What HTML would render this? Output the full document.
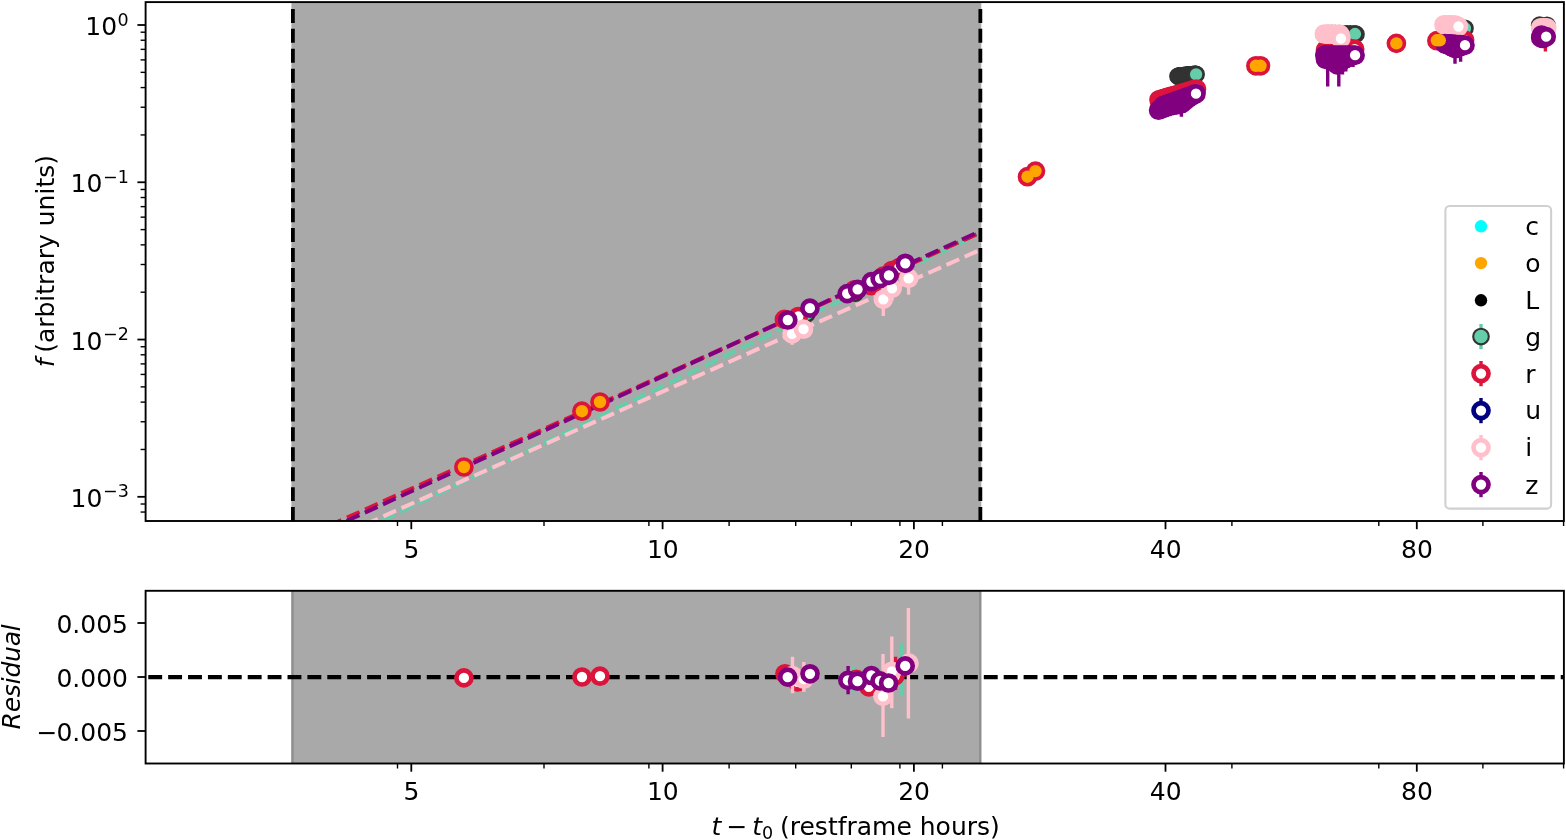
<!DOCTYPE html>
<html lang="en"><head><meta charset="utf-8"><title>Light curve fit</title>
<style>html,body{margin:0;padding:0;background:#fff;}body{width:1566px;height:840px;overflow:hidden;}</style>
</head><body>
<svg width="1566" height="840" viewBox="0 0 1566 840" style="display:block">
<defs>
<clipPath id="c1"><rect x="145.6" y="2.1" width="1418.3" height="518.9"/></clipPath>
<clipPath id="c2"><rect x="145.6" y="590.8" width="1418.3" height="172.7"/></clipPath>
</defs>
<rect width="1566" height="840" fill="#fff"/>
<g clip-path="url(#c1)">
<rect x="291.4" y="0.10000000000000009" width="689.9" height="522.9" fill="#a9a9a9"/>
<line x1="292.5" y1="563.70" x2="977.6" y2="234.85" stroke="#66cdaa" stroke-width="4.0" stroke-dasharray="13.9 5.995"/>
<line x1="292.5" y1="542.16" x2="977.6" y2="233.87" stroke="#dc143c" stroke-width="4.0" stroke-dasharray="13.9 5.995"/>
<line x1="292.5" y1="556.86" x2="977.6" y2="251.00" stroke="#ffc0cb" stroke-width="4.0" stroke-dasharray="13.9 5.995"/>
<line x1="292.5" y1="545.69" x2="977.6" y2="232.33" stroke="#800080" stroke-width="4.0" stroke-dasharray="13.9 5.995"/>
<line x1="292.9" y1="521.0" x2="292.9" y2="-17.9" stroke="#000" stroke-width="3.8" stroke-dasharray="13.95 5.975"/>
<line x1="980.35" y1="521.0" x2="980.35" y2="-17.9" stroke="#000" stroke-width="3.8" stroke-dasharray="13.95 5.975"/>
<circle cx="807.0" cy="313.8" r="7.5" fill="#66cdaa" stroke="#333" stroke-width="2.7"/>
<circle cx="855.2" cy="293.2" r="7.5" fill="#66cdaa" stroke="#333" stroke-width="2.7"/>
<circle cx="1178.0" cy="76.3" r="7.5" fill="#66cdaa" stroke="#333" stroke-width="2.7"/>
<circle cx="1178.5" cy="76.2" r="7.5" fill="#66cdaa" stroke="#333" stroke-width="2.7"/>
<circle cx="1178.9" cy="76.2" r="7.5" fill="#66cdaa" stroke="#333" stroke-width="2.7"/>
<circle cx="1179.4" cy="76.1" r="7.5" fill="#66cdaa" stroke="#333" stroke-width="2.7"/>
<circle cx="1179.9" cy="76.1" r="7.5" fill="#66cdaa" stroke="#333" stroke-width="2.7"/>
<circle cx="1180.3" cy="76.0" r="7.5" fill="#66cdaa" stroke="#333" stroke-width="2.7"/>
<circle cx="1180.8" cy="76.0" r="7.5" fill="#66cdaa" stroke="#333" stroke-width="2.7"/>
<circle cx="1181.2" cy="75.9" r="7.5" fill="#66cdaa" stroke="#333" stroke-width="2.7"/>
<circle cx="1181.7" cy="75.9" r="7.5" fill="#66cdaa" stroke="#333" stroke-width="2.7"/>
<circle cx="1182.2" cy="75.8" r="7.5" fill="#66cdaa" stroke="#333" stroke-width="2.7"/>
<circle cx="1182.6" cy="75.8" r="7.5" fill="#66cdaa" stroke="#333" stroke-width="2.7"/>
<circle cx="1183.1" cy="75.7" r="7.5" fill="#66cdaa" stroke="#333" stroke-width="2.7"/>
<circle cx="1183.6" cy="75.7" r="7.5" fill="#66cdaa" stroke="#333" stroke-width="2.7"/>
<circle cx="1184.0" cy="75.6" r="7.5" fill="#66cdaa" stroke="#333" stroke-width="2.7"/>
<circle cx="1184.5" cy="75.6" r="7.5" fill="#66cdaa" stroke="#333" stroke-width="2.7"/>
<circle cx="1185.0" cy="75.5" r="7.5" fill="#66cdaa" stroke="#333" stroke-width="2.7"/>
<circle cx="1185.4" cy="75.5" r="7.5" fill="#66cdaa" stroke="#333" stroke-width="2.7"/>
<circle cx="1185.9" cy="75.4" r="7.5" fill="#66cdaa" stroke="#333" stroke-width="2.7"/>
<circle cx="1186.4" cy="75.4" r="7.5" fill="#66cdaa" stroke="#333" stroke-width="2.7"/>
<circle cx="1186.8" cy="75.3" r="7.5" fill="#66cdaa" stroke="#333" stroke-width="2.7"/>
<circle cx="1187.3" cy="75.3" r="7.5" fill="#66cdaa" stroke="#333" stroke-width="2.7"/>
<circle cx="1187.7" cy="75.2" r="7.5" fill="#66cdaa" stroke="#333" stroke-width="2.7"/>
<circle cx="1188.2" cy="75.2" r="7.5" fill="#66cdaa" stroke="#333" stroke-width="2.7"/>
<circle cx="1188.7" cy="75.1" r="7.5" fill="#66cdaa" stroke="#333" stroke-width="2.7"/>
<circle cx="1189.1" cy="75.1" r="7.5" fill="#66cdaa" stroke="#333" stroke-width="2.7"/>
<circle cx="1189.6" cy="75.0" r="7.5" fill="#66cdaa" stroke="#333" stroke-width="2.7"/>
<circle cx="1190.1" cy="75.0" r="7.5" fill="#66cdaa" stroke="#333" stroke-width="2.7"/>
<circle cx="1190.5" cy="74.9" r="7.5" fill="#66cdaa" stroke="#333" stroke-width="2.7"/>
<circle cx="1191.0" cy="74.9" r="7.5" fill="#66cdaa" stroke="#333" stroke-width="2.7"/>
<circle cx="1191.5" cy="74.8" r="7.5" fill="#66cdaa" stroke="#333" stroke-width="2.7"/>
<circle cx="1191.9" cy="74.8" r="7.5" fill="#66cdaa" stroke="#333" stroke-width="2.7"/>
<circle cx="1192.4" cy="74.7" r="7.5" fill="#66cdaa" stroke="#333" stroke-width="2.7"/>
<circle cx="1192.9" cy="74.7" r="7.5" fill="#66cdaa" stroke="#333" stroke-width="2.7"/>
<circle cx="1193.3" cy="74.6" r="7.5" fill="#66cdaa" stroke="#333" stroke-width="2.7"/>
<circle cx="1193.8" cy="74.6" r="7.5" fill="#66cdaa" stroke="#333" stroke-width="2.7"/>
<circle cx="1194.2" cy="74.5" r="7.5" fill="#66cdaa" stroke="#333" stroke-width="2.7"/>
<circle cx="1194.7" cy="74.5" r="7.5" fill="#66cdaa" stroke="#333" stroke-width="2.7"/>
<circle cx="1195.2" cy="74.4" r="7.5" fill="#66cdaa" stroke="#333" stroke-width="2.7"/>
<circle cx="1195.6" cy="74.4" r="7.5" fill="#66cdaa" stroke="#333" stroke-width="2.7"/>
<circle cx="1196.1" cy="74.3" r="7.5" fill="#66cdaa" stroke="#333" stroke-width="2.7"/>
<circle cx="1328.0" cy="33.5" r="7.5" fill="#66cdaa" stroke="#333" stroke-width="2.7"/>
<circle cx="1331.7" cy="33.6" r="7.5" fill="#66cdaa" stroke="#333" stroke-width="2.7"/>
<circle cx="1335.4" cy="33.6" r="7.5" fill="#66cdaa" stroke="#333" stroke-width="2.7"/>
<circle cx="1339.1" cy="33.7" r="7.5" fill="#66cdaa" stroke="#333" stroke-width="2.7"/>
<circle cx="1342.9" cy="33.8" r="7.5" fill="#66cdaa" stroke="#333" stroke-width="2.7"/>
<circle cx="1346.6" cy="33.9" r="7.5" fill="#66cdaa" stroke="#333" stroke-width="2.7"/>
<circle cx="1350.3" cy="33.9" r="7.5" fill="#66cdaa" stroke="#333" stroke-width="2.7"/>
<circle cx="1354.0" cy="34.0" r="7.5" fill="#66cdaa" stroke="#333" stroke-width="2.7"/>
<circle cx="1356.0" cy="34.2" r="7.5" fill="#66cdaa" stroke="#333" stroke-width="2.7"/>
<circle cx="1355.0" cy="34.0" r="7.5" fill="#66cdaa" stroke="#333" stroke-width="2.7"/>
<circle cx="1448.0" cy="28.0" r="7.5" fill="#66cdaa" stroke="#333" stroke-width="2.7"/>
<circle cx="1452.2" cy="28.1" r="7.5" fill="#66cdaa" stroke="#333" stroke-width="2.7"/>
<circle cx="1456.5" cy="28.1" r="7.5" fill="#66cdaa" stroke="#333" stroke-width="2.7"/>
<circle cx="1460.8" cy="28.2" r="7.5" fill="#66cdaa" stroke="#333" stroke-width="2.7"/>
<circle cx="1465.0" cy="28.3" r="7.5" fill="#66cdaa" stroke="#333" stroke-width="2.7"/>
<circle cx="1539.6" cy="25.2" r="7.5" fill="#66cdaa" stroke="#333" stroke-width="2.7"/>
<circle cx="1547.0" cy="25.3" r="7.5" fill="#66cdaa" stroke="#333" stroke-width="2.7"/>
<line x1="1545.4" y1="37.0" x2="1545.4" y2="51.5" stroke="#dc143c" stroke-width="3.4"/>
<circle cx="463.9" cy="467.0" r="7.5" fill="#fff" stroke="#dc143c" stroke-width="4.7"/>
<circle cx="581.9" cy="411.2" r="7.5" fill="#fff" stroke="#dc143c" stroke-width="4.7"/>
<circle cx="600.0" cy="402.0" r="7.5" fill="#fff" stroke="#dc143c" stroke-width="4.7"/>
<circle cx="784.4" cy="319.4" r="7.5" fill="#fff" stroke="#dc143c" stroke-width="4.7"/>
<circle cx="798.3" cy="316.5" r="7.5" fill="#fff" stroke="#dc143c" stroke-width="4.7"/>
<circle cx="854.5" cy="289.8" r="7.5" fill="#fff" stroke="#dc143c" stroke-width="4.7"/>
<circle cx="871.5" cy="285.7" r="7.5" fill="#fff" stroke="#dc143c" stroke-width="4.7"/>
<circle cx="883.3" cy="276.2" r="7.5" fill="#fff" stroke="#dc143c" stroke-width="4.7"/>
<circle cx="891.9" cy="270.5" r="7.5" fill="#fff" stroke="#dc143c" stroke-width="4.7"/>
<circle cx="899.3" cy="267.5" r="7.5" fill="#fff" stroke="#dc143c" stroke-width="4.7"/>
<circle cx="1027.5" cy="176.7" r="7.5" fill="#fff" stroke="#dc143c" stroke-width="4.7"/>
<circle cx="1035.5" cy="171.1" r="7.5" fill="#fff" stroke="#dc143c" stroke-width="4.7"/>
<circle cx="1159.0" cy="99.8" r="7.5" fill="#fff" stroke="#dc143c" stroke-width="4.7"/>
<circle cx="1161.5" cy="99.1" r="7.5" fill="#fff" stroke="#dc143c" stroke-width="4.7"/>
<circle cx="1164.0" cy="98.4" r="7.5" fill="#fff" stroke="#dc143c" stroke-width="4.7"/>
<circle cx="1166.5" cy="97.6" r="7.5" fill="#fff" stroke="#dc143c" stroke-width="4.7"/>
<circle cx="1169.0" cy="96.9" r="7.5" fill="#fff" stroke="#dc143c" stroke-width="4.7"/>
<circle cx="1171.5" cy="96.2" r="7.5" fill="#fff" stroke="#dc143c" stroke-width="4.7"/>
<circle cx="1174.0" cy="95.5" r="7.5" fill="#fff" stroke="#dc143c" stroke-width="4.7"/>
<circle cx="1176.5" cy="94.8" r="7.5" fill="#fff" stroke="#dc143c" stroke-width="4.7"/>
<circle cx="1179.0" cy="94.0" r="7.5" fill="#fff" stroke="#dc143c" stroke-width="4.7"/>
<circle cx="1181.5" cy="93.3" r="7.5" fill="#fff" stroke="#dc143c" stroke-width="4.7"/>
<circle cx="1184.0" cy="92.6" r="7.5" fill="#fff" stroke="#dc143c" stroke-width="4.7"/>
<circle cx="1186.5" cy="91.9" r="7.5" fill="#fff" stroke="#dc143c" stroke-width="4.7"/>
<circle cx="1189.0" cy="91.2" r="7.5" fill="#fff" stroke="#dc143c" stroke-width="4.7"/>
<circle cx="1191.5" cy="90.4" r="7.5" fill="#fff" stroke="#dc143c" stroke-width="4.7"/>
<circle cx="1194.0" cy="89.7" r="7.5" fill="#fff" stroke="#dc143c" stroke-width="4.7"/>
<circle cx="1196.5" cy="89.0" r="7.5" fill="#fff" stroke="#dc143c" stroke-width="4.7"/>
<circle cx="1255.9" cy="65.8" r="7.5" fill="#fff" stroke="#dc143c" stroke-width="4.7"/>
<circle cx="1260.5" cy="65.8" r="7.5" fill="#fff" stroke="#dc143c" stroke-width="4.7"/>
<circle cx="1325.5" cy="50.0" r="7.5" fill="#fff" stroke="#dc143c" stroke-width="4.7"/>
<circle cx="1328.7" cy="49.9" r="7.5" fill="#fff" stroke="#dc143c" stroke-width="4.7"/>
<circle cx="1332.0" cy="49.8" r="7.5" fill="#fff" stroke="#dc143c" stroke-width="4.7"/>
<circle cx="1335.2" cy="49.7" r="7.5" fill="#fff" stroke="#dc143c" stroke-width="4.7"/>
<circle cx="1338.5" cy="49.6" r="7.5" fill="#fff" stroke="#dc143c" stroke-width="4.7"/>
<circle cx="1341.7" cy="49.5" r="7.5" fill="#fff" stroke="#dc143c" stroke-width="4.7"/>
<circle cx="1345.0" cy="49.4" r="7.5" fill="#fff" stroke="#dc143c" stroke-width="4.7"/>
<circle cx="1348.2" cy="49.3" r="7.5" fill="#fff" stroke="#dc143c" stroke-width="4.7"/>
<circle cx="1351.5" cy="49.2" r="7.5" fill="#fff" stroke="#dc143c" stroke-width="4.7"/>
<circle cx="1354.7" cy="49.1" r="7.5" fill="#fff" stroke="#dc143c" stroke-width="4.7"/>
<circle cx="1396.4" cy="43.4" r="7.5" fill="#fff" stroke="#dc143c" stroke-width="4.7"/>
<circle cx="1436.9" cy="40.7" r="7.5" fill="#fff" stroke="#dc143c" stroke-width="4.7"/>
<circle cx="1439.8" cy="40.4" r="7.5" fill="#fff" stroke="#dc143c" stroke-width="4.7"/>
<circle cx="1445.0" cy="40.5" r="7.5" fill="#fff" stroke="#dc143c" stroke-width="4.7"/>
<circle cx="1448.9" cy="40.4" r="7.5" fill="#fff" stroke="#dc143c" stroke-width="4.7"/>
<circle cx="1452.8" cy="40.3" r="7.5" fill="#fff" stroke="#dc143c" stroke-width="4.7"/>
<circle cx="1456.8" cy="40.2" r="7.5" fill="#fff" stroke="#dc143c" stroke-width="4.7"/>
<circle cx="1460.7" cy="40.1" r="7.5" fill="#fff" stroke="#dc143c" stroke-width="4.7"/>
<circle cx="1464.6" cy="40.0" r="7.5" fill="#fff" stroke="#dc143c" stroke-width="4.7"/>
<circle cx="1541.0" cy="36.5" r="7.5" fill="#fff" stroke="#dc143c" stroke-width="4.7"/>
<circle cx="1545.4" cy="37.0" r="7.5" fill="#fff" stroke="#dc143c" stroke-width="4.7"/>
<line x1="792.1" y1="326.0" x2="792.1" y2="344.8" stroke="#ffc0cb" stroke-width="3.4"/>
<line x1="803.5" y1="322.0" x2="803.5" y2="337.5" stroke="#ffc0cb" stroke-width="3.4"/>
<line x1="883.3" y1="287.0" x2="883.3" y2="316.0" stroke="#ffc0cb" stroke-width="3.4"/>
<line x1="892.1" y1="278.0" x2="892.1" y2="300.5" stroke="#ffc0cb" stroke-width="3.4"/>
<line x1="908.6" y1="266.0" x2="908.6" y2="294.7" stroke="#ffc0cb" stroke-width="3.4"/>
<circle cx="792.1" cy="333.9" r="7.5" fill="#fff" stroke="#ffc0cb" stroke-width="4.7"/>
<circle cx="803.5" cy="329.2" r="7.5" fill="#fff" stroke="#ffc0cb" stroke-width="4.7"/>
<circle cx="883.3" cy="299.3" r="7.5" fill="#fff" stroke="#ffc0cb" stroke-width="4.7"/>
<circle cx="892.1" cy="288.4" r="7.5" fill="#fff" stroke="#ffc0cb" stroke-width="4.7"/>
<circle cx="908.6" cy="278.3" r="7.5" fill="#fff" stroke="#ffc0cb" stroke-width="4.7"/>
<circle cx="1324.3" cy="34.0" r="7.5" fill="#fff" stroke="#ffc0cb" stroke-width="4.7"/>
<circle cx="1326.9" cy="34.1" r="7.5" fill="#fff" stroke="#ffc0cb" stroke-width="4.7"/>
<circle cx="1329.5" cy="34.1" r="7.5" fill="#fff" stroke="#ffc0cb" stroke-width="4.7"/>
<circle cx="1332.2" cy="34.2" r="7.5" fill="#fff" stroke="#ffc0cb" stroke-width="4.7"/>
<circle cx="1334.8" cy="34.3" r="7.5" fill="#fff" stroke="#ffc0cb" stroke-width="4.7"/>
<circle cx="1337.4" cy="34.3" r="7.5" fill="#fff" stroke="#ffc0cb" stroke-width="4.7"/>
<circle cx="1340.0" cy="34.4" r="7.5" fill="#fff" stroke="#ffc0cb" stroke-width="4.7"/>
<circle cx="1338.5" cy="36.5" r="7.5" fill="#fff" stroke="#ffc0cb" stroke-width="4.7"/>
<circle cx="1340.9" cy="38.5" r="7.5" fill="#fff" stroke="#ffc0cb" stroke-width="4.7"/>
<circle cx="1444.0" cy="24.8" r="7.5" fill="#fff" stroke="#ffc0cb" stroke-width="4.7"/>
<circle cx="1446.3" cy="24.8" r="7.5" fill="#fff" stroke="#ffc0cb" stroke-width="4.7"/>
<circle cx="1448.6" cy="24.9" r="7.5" fill="#fff" stroke="#ffc0cb" stroke-width="4.7"/>
<circle cx="1450.9" cy="24.9" r="7.5" fill="#fff" stroke="#ffc0cb" stroke-width="4.7"/>
<circle cx="1453.2" cy="25.0" r="7.5" fill="#fff" stroke="#ffc0cb" stroke-width="4.7"/>
<circle cx="1455.5" cy="25.0" r="7.5" fill="#fff" stroke="#ffc0cb" stroke-width="4.7"/>
<circle cx="1458.5" cy="26.5" r="7.5" fill="#fff" stroke="#ffc0cb" stroke-width="4.7"/>
<circle cx="1540.7" cy="27.8" r="7.5" fill="#fff" stroke="#ffc0cb" stroke-width="4.7"/>
<circle cx="1542.7" cy="27.8" r="7.5" fill="#fff" stroke="#ffc0cb" stroke-width="4.7"/>
<circle cx="1544.8" cy="27.8" r="7.5" fill="#fff" stroke="#ffc0cb" stroke-width="4.7"/>
<circle cx="1546.8" cy="27.8" r="7.5" fill="#fff" stroke="#ffc0cb" stroke-width="4.7"/>
<circle cx="1543.6" cy="31.0" r="7.5" fill="#fff" stroke="#ffc0cb" stroke-width="4.7"/>
<line x1="1181.4" y1="104.0" x2="1181.4" y2="116.7" stroke="#800080" stroke-width="3.4"/>
<line x1="1327.7" y1="58.0" x2="1327.7" y2="86.5" stroke="#800080" stroke-width="3.4"/>
<line x1="1338.8" y1="63.0" x2="1338.8" y2="86.5" stroke="#800080" stroke-width="3.4"/>
<line x1="1342.5" y1="60.0" x2="1342.5" y2="74.5" stroke="#800080" stroke-width="3.4"/>
<line x1="1345.8" y1="58.0" x2="1345.8" y2="71.5" stroke="#800080" stroke-width="3.4"/>
<line x1="1353.0" y1="56.0" x2="1353.0" y2="67.0" stroke="#800080" stroke-width="3.4"/>
<line x1="1455.0" y1="48.0" x2="1455.0" y2="63.8" stroke="#800080" stroke-width="3.4"/>
<line x1="1460.6" y1="46.5" x2="1460.6" y2="61.7" stroke="#800080" stroke-width="3.4"/>
<circle cx="787.8" cy="320.0" r="7.5" fill="#fff" stroke="#800080" stroke-width="4.7"/>
<circle cx="809.9" cy="308.2" r="7.5" fill="#fff" stroke="#800080" stroke-width="4.7"/>
<circle cx="847.2" cy="293.6" r="7.5" fill="#fff" stroke="#800080" stroke-width="4.7"/>
<circle cx="857.6" cy="289.3" r="7.5" fill="#fff" stroke="#800080" stroke-width="4.7"/>
<circle cx="871.4" cy="281.6" r="7.5" fill="#fff" stroke="#800080" stroke-width="4.7"/>
<circle cx="880.1" cy="278.6" r="7.5" fill="#fff" stroke="#800080" stroke-width="4.7"/>
<circle cx="888.9" cy="275.4" r="7.5" fill="#fff" stroke="#800080" stroke-width="4.7"/>
<circle cx="905.3" cy="263.3" r="7.5" fill="#fff" stroke="#800080" stroke-width="4.7"/>
<circle cx="1158.6" cy="110.2" r="7.5" fill="#fff" stroke="#800080" stroke-width="4.7"/>
<circle cx="1161.5" cy="109.0" r="7.5" fill="#fff" stroke="#800080" stroke-width="4.7"/>
<circle cx="1164.5" cy="107.8" r="7.5" fill="#fff" stroke="#800080" stroke-width="4.7"/>
<circle cx="1167.5" cy="106.8" r="7.5" fill="#fff" stroke="#800080" stroke-width="4.7"/>
<circle cx="1170.5" cy="106.0" r="7.5" fill="#fff" stroke="#800080" stroke-width="4.7"/>
<circle cx="1173.5" cy="105.3" r="7.5" fill="#fff" stroke="#800080" stroke-width="4.7"/>
<circle cx="1176.5" cy="104.8" r="7.5" fill="#fff" stroke="#800080" stroke-width="4.7"/>
<circle cx="1179.5" cy="104.3" r="7.5" fill="#fff" stroke="#800080" stroke-width="4.7"/>
<circle cx="1182.0" cy="103.5" r="7.5" fill="#fff" stroke="#800080" stroke-width="4.7"/>
<circle cx="1185.0" cy="101.0" r="7.5" fill="#fff" stroke="#800080" stroke-width="4.7"/>
<circle cx="1188.0" cy="98.5" r="7.5" fill="#fff" stroke="#800080" stroke-width="4.7"/>
<circle cx="1191.0" cy="96.5" r="7.5" fill="#fff" stroke="#800080" stroke-width="4.7"/>
<circle cx="1193.5" cy="95.0" r="7.5" fill="#fff" stroke="#800080" stroke-width="4.7"/>
<circle cx="1163.0" cy="105.6" r="7.5" fill="#fff" stroke="#800080" stroke-width="4.7"/>
<circle cx="1166.3" cy="104.4" r="7.5" fill="#fff" stroke="#800080" stroke-width="4.7"/>
<circle cx="1169.7" cy="103.2" r="7.5" fill="#fff" stroke="#800080" stroke-width="4.7"/>
<circle cx="1173.0" cy="102.0" r="7.5" fill="#fff" stroke="#800080" stroke-width="4.7"/>
<circle cx="1176.3" cy="100.8" r="7.5" fill="#fff" stroke="#800080" stroke-width="4.7"/>
<circle cx="1179.7" cy="99.6" r="7.5" fill="#fff" stroke="#800080" stroke-width="4.7"/>
<circle cx="1183.0" cy="98.4" r="7.5" fill="#fff" stroke="#800080" stroke-width="4.7"/>
<circle cx="1186.3" cy="97.2" r="7.5" fill="#fff" stroke="#800080" stroke-width="4.7"/>
<circle cx="1189.7" cy="96.0" r="7.5" fill="#fff" stroke="#800080" stroke-width="4.7"/>
<circle cx="1193.0" cy="94.8" r="7.5" fill="#fff" stroke="#800080" stroke-width="4.7"/>
<circle cx="1196.0" cy="93.7" r="7.5" fill="#fff" stroke="#800080" stroke-width="4.7"/>
<circle cx="1325.0" cy="55.0" r="7.5" fill="#fff" stroke="#800080" stroke-width="4.7"/>
<circle cx="1325.5" cy="59.4" r="7.5" fill="#fff" stroke="#800080" stroke-width="4.7"/>
<circle cx="1328.0" cy="57.0" r="7.5" fill="#fff" stroke="#800080" stroke-width="4.7"/>
<circle cx="1331.0" cy="58.5" r="7.5" fill="#fff" stroke="#800080" stroke-width="4.7"/>
<circle cx="1334.0" cy="62.0" r="7.5" fill="#fff" stroke="#800080" stroke-width="4.7"/>
<circle cx="1337.2" cy="64.8" r="7.5" fill="#fff" stroke="#800080" stroke-width="4.7"/>
<circle cx="1340.0" cy="62.5" r="7.5" fill="#fff" stroke="#800080" stroke-width="4.7"/>
<circle cx="1343.0" cy="60.0" r="7.5" fill="#fff" stroke="#800080" stroke-width="4.7"/>
<circle cx="1346.0" cy="58.5" r="7.5" fill="#fff" stroke="#800080" stroke-width="4.7"/>
<circle cx="1349.0" cy="57.0" r="7.5" fill="#fff" stroke="#800080" stroke-width="4.7"/>
<circle cx="1352.0" cy="56.0" r="7.5" fill="#fff" stroke="#800080" stroke-width="4.7"/>
<circle cx="1325.0" cy="55.0" r="7.5" fill="#fff" stroke="#800080" stroke-width="4.7"/>
<circle cx="1327.5" cy="55.0" r="7.5" fill="#fff" stroke="#800080" stroke-width="4.7"/>
<circle cx="1330.1" cy="55.0" r="7.5" fill="#fff" stroke="#800080" stroke-width="4.7"/>
<circle cx="1332.6" cy="55.1" r="7.5" fill="#fff" stroke="#800080" stroke-width="4.7"/>
<circle cx="1335.2" cy="55.1" r="7.5" fill="#fff" stroke="#800080" stroke-width="4.7"/>
<circle cx="1337.7" cy="55.1" r="7.5" fill="#fff" stroke="#800080" stroke-width="4.7"/>
<circle cx="1340.3" cy="55.1" r="7.5" fill="#fff" stroke="#800080" stroke-width="4.7"/>
<circle cx="1342.8" cy="55.1" r="7.5" fill="#fff" stroke="#800080" stroke-width="4.7"/>
<circle cx="1345.4" cy="55.1" r="7.5" fill="#fff" stroke="#800080" stroke-width="4.7"/>
<circle cx="1347.9" cy="55.2" r="7.5" fill="#fff" stroke="#800080" stroke-width="4.7"/>
<circle cx="1350.5" cy="55.2" r="7.5" fill="#fff" stroke="#800080" stroke-width="4.7"/>
<circle cx="1353.0" cy="55.2" r="7.5" fill="#fff" stroke="#800080" stroke-width="4.7"/>
<circle cx="1355.1" cy="55.2" r="7.5" fill="#fff" stroke="#800080" stroke-width="4.7"/>
<circle cx="1445.0" cy="44.0" r="7.5" fill="#fff" stroke="#800080" stroke-width="4.7"/>
<circle cx="1448.0" cy="45.0" r="7.5" fill="#fff" stroke="#800080" stroke-width="4.7"/>
<circle cx="1451.0" cy="46.5" r="7.5" fill="#fff" stroke="#800080" stroke-width="4.7"/>
<circle cx="1454.0" cy="48.0" r="7.5" fill="#fff" stroke="#800080" stroke-width="4.7"/>
<circle cx="1455.8" cy="48.5" r="7.5" fill="#fff" stroke="#800080" stroke-width="4.7"/>
<circle cx="1458.0" cy="47.5" r="7.5" fill="#fff" stroke="#800080" stroke-width="4.7"/>
<circle cx="1460.5" cy="46.5" r="7.5" fill="#fff" stroke="#800080" stroke-width="4.7"/>
<circle cx="1463.0" cy="45.6" r="7.5" fill="#fff" stroke="#800080" stroke-width="4.7"/>
<circle cx="1445.0" cy="43.6" r="7.5" fill="#fff" stroke="#800080" stroke-width="4.7"/>
<circle cx="1447.6" cy="43.8" r="7.5" fill="#fff" stroke="#800080" stroke-width="4.7"/>
<circle cx="1450.1" cy="43.9" r="7.5" fill="#fff" stroke="#800080" stroke-width="4.7"/>
<circle cx="1452.7" cy="44.1" r="7.5" fill="#fff" stroke="#800080" stroke-width="4.7"/>
<circle cx="1455.3" cy="44.3" r="7.5" fill="#fff" stroke="#800080" stroke-width="4.7"/>
<circle cx="1457.9" cy="44.5" r="7.5" fill="#fff" stroke="#800080" stroke-width="4.7"/>
<circle cx="1460.4" cy="44.6" r="7.5" fill="#fff" stroke="#800080" stroke-width="4.7"/>
<circle cx="1463.0" cy="44.8" r="7.5" fill="#fff" stroke="#800080" stroke-width="4.7"/>
<circle cx="1465.0" cy="45.2" r="7.5" fill="#fff" stroke="#800080" stroke-width="4.7"/>
<circle cx="1541.5" cy="35.0" r="7.5" fill="#fff" stroke="#800080" stroke-width="4.7"/>
<circle cx="1540.7" cy="37.8" r="7.5" fill="#fff" stroke="#800080" stroke-width="4.7"/>
<circle cx="1543.0" cy="38.5" r="7.5" fill="#fff" stroke="#800080" stroke-width="4.7"/>
<circle cx="1546.2" cy="36.7" r="7.5" fill="#fff" stroke="#800080" stroke-width="4.7"/>
<circle cx="463.9" cy="467.0" r="6.2" fill="#ffa500"/>
<circle cx="581.9" cy="411.2" r="6.2" fill="#ffa500"/>
<circle cx="600.0" cy="402.0" r="6.2" fill="#ffa500"/>
<circle cx="1027.5" cy="176.7" r="6.2" fill="#ffa500"/>
<circle cx="1035.5" cy="171.1" r="6.2" fill="#ffa500"/>
<circle cx="1255.9" cy="65.8" r="6.2" fill="#ffa500"/>
<circle cx="1260.5" cy="65.8" r="6.2" fill="#ffa500"/>
<circle cx="1396.4" cy="43.4" r="6.2" fill="#ffa500"/>
<circle cx="1436.9" cy="40.3" r="6.2" fill="#ffa500"/>
<circle cx="1439.8" cy="40.3" r="6.2" fill="#ffa500"/>
</g>
<g clip-path="url(#c2)">
<rect x="291.4" y="588.8" width="689.9" height="176.7" fill="#a9a9a9"/>
<rect x="291.4" y="588.8" width="2.2" height="176.7" fill="#8d8d8d"/>
<rect x="979.1" y="588.8" width="2.2" height="176.7" fill="#8d8d8d"/>
<line x1="128.36" y1="677.1" x2="1568.9" y2="677.1" stroke="#000" stroke-width="4.2" stroke-dasharray="13.9 5.994"/>
<line x1="853.8" y1="666.4" x2="853.8" y2="692.2" stroke="#66cdaa" stroke-width="3.4"/>
<line x1="901.7" y1="642.9" x2="901.7" y2="695.4" stroke="#66cdaa" stroke-width="3.4"/>
<circle cx="853.8" cy="679.3" r="7.5" fill="#66cdaa" stroke="#333" stroke-width="2.7"/>
<circle cx="901.7" cy="669.1" r="7.5" fill="#66cdaa" stroke="#333" stroke-width="2.7"/>
<line x1="895.6" y1="656.8" x2="895.6" y2="690.0" stroke="#dc143c" stroke-width="3.4"/>
<circle cx="463.9" cy="677.9" r="7.5" fill="#fff" stroke="#dc143c" stroke-width="4.7"/>
<circle cx="582.0" cy="677.0" r="7.5" fill="#fff" stroke="#dc143c" stroke-width="4.7"/>
<circle cx="600.0" cy="676.2" r="7.5" fill="#fff" stroke="#dc143c" stroke-width="4.7"/>
<circle cx="785.0" cy="673.8" r="7.5" fill="#fff" stroke="#dc143c" stroke-width="4.7"/>
<circle cx="797.5" cy="681.9" r="7.5" fill="#fff" stroke="#dc143c" stroke-width="4.7"/>
<circle cx="856.4" cy="679.4" r="7.5" fill="#fff" stroke="#dc143c" stroke-width="4.7"/>
<circle cx="868.8" cy="686.8" r="7.5" fill="#fff" stroke="#dc143c" stroke-width="4.7"/>
<circle cx="890.7" cy="672.9" r="7.5" fill="#fff" stroke="#dc143c" stroke-width="4.7"/>
<circle cx="894.8" cy="676.1" r="7.5" fill="#fff" stroke="#dc143c" stroke-width="4.7"/>
<line x1="792.5" y1="656.7" x2="792.5" y2="693.3" stroke="#ffc0cb" stroke-width="3.4"/>
<line x1="803.8" y1="662.0" x2="803.8" y2="691.7" stroke="#ffc0cb" stroke-width="3.4"/>
<line x1="883.0" y1="654.0" x2="883.0" y2="737.0" stroke="#ffc0cb" stroke-width="3.4"/>
<line x1="891.8" y1="636.4" x2="891.8" y2="708.2" stroke="#ffc0cb" stroke-width="3.4"/>
<line x1="908.4" y1="608.0" x2="908.4" y2="718.6" stroke="#ffc0cb" stroke-width="3.4"/>
<circle cx="792.5" cy="675.5" r="7.5" fill="#fff" stroke="#ffc0cb" stroke-width="4.7"/>
<circle cx="803.8" cy="679.2" r="7.5" fill="#fff" stroke="#ffc0cb" stroke-width="4.7"/>
<circle cx="883.0" cy="696.4" r="7.5" fill="#fff" stroke="#ffc0cb" stroke-width="4.7"/>
<circle cx="891.8" cy="671.3" r="7.5" fill="#fff" stroke="#ffc0cb" stroke-width="4.7"/>
<circle cx="909.0" cy="663.2" r="7.5" fill="#fff" stroke="#ffc0cb" stroke-width="4.7"/>
<line x1="848.1" y1="665.9" x2="848.1" y2="694.3" stroke="#800080" stroke-width="3.4"/>
<circle cx="787.7" cy="677.1" r="7.5" fill="#fff" stroke="#800080" stroke-width="4.7"/>
<circle cx="810.0" cy="673.8" r="7.5" fill="#fff" stroke="#800080" stroke-width="4.7"/>
<circle cx="847.9" cy="680.4" r="7.5" fill="#fff" stroke="#800080" stroke-width="4.7"/>
<circle cx="857.5" cy="681.2" r="7.5" fill="#fff" stroke="#800080" stroke-width="4.7"/>
<circle cx="871.4" cy="675.5" r="7.5" fill="#fff" stroke="#800080" stroke-width="4.7"/>
<circle cx="880.0" cy="680.9" r="7.5" fill="#fff" stroke="#800080" stroke-width="4.7"/>
<circle cx="888.6" cy="683.0" r="7.5" fill="#fff" stroke="#800080" stroke-width="4.7"/>
<circle cx="905.2" cy="665.9" r="7.5" fill="#fff" stroke="#800080" stroke-width="4.7"/>
</g>
<rect x="145.6" y="2.1" width="1418.3" height="518.9" fill="none" stroke="#000" stroke-width="1.9"/>
<rect x="145.6" y="590.8" width="1418.3" height="172.7" fill="none" stroke="#000" stroke-width="1.9"/>
<line x1="411.3" y1="521.0" x2="411.3" y2="529.2" stroke="#000" stroke-width="1.8"/>
<line x1="662.6" y1="521.0" x2="662.6" y2="529.2" stroke="#000" stroke-width="1.8"/>
<line x1="913.9" y1="521.0" x2="913.9" y2="529.2" stroke="#000" stroke-width="1.8"/>
<line x1="1165.5" y1="521.0" x2="1165.5" y2="529.2" stroke="#000" stroke-width="1.8"/>
<line x1="1416.8" y1="521.0" x2="1416.8" y2="529.2" stroke="#000" stroke-width="1.8"/>
<line x1="397.5" y1="521.0" x2="397.5" y2="526.0" stroke="#000" stroke-width="1.4"/>
<line x1="544.0" y1="521.0" x2="544.0" y2="526.0" stroke="#000" stroke-width="1.4"/>
<line x1="648.9" y1="521.0" x2="648.9" y2="526.0" stroke="#000" stroke-width="1.4"/>
<line x1="729.1" y1="521.0" x2="729.1" y2="526.0" stroke="#000" stroke-width="1.4"/>
<line x1="795.7" y1="521.0" x2="795.7" y2="526.0" stroke="#000" stroke-width="1.4"/>
<line x1="851.3" y1="521.0" x2="851.3" y2="526.0" stroke="#000" stroke-width="1.4"/>
<line x1="899.9" y1="521.0" x2="899.9" y2="526.0" stroke="#000" stroke-width="1.4"/>
<line x1="942.4" y1="521.0" x2="942.4" y2="526.0" stroke="#000" stroke-width="1.4"/>
<line x1="1231.9" y1="521.0" x2="1231.9" y2="526.0" stroke="#000" stroke-width="1.4"/>
<line x1="1378.8" y1="521.0" x2="1378.8" y2="526.0" stroke="#000" stroke-width="1.4"/>
<line x1="1482.9" y1="521.0" x2="1482.9" y2="526.0" stroke="#000" stroke-width="1.4"/>
<line x1="1563.6" y1="521.0" x2="1563.6" y2="526.0" stroke="#000" stroke-width="1.4"/>
<line x1="411.3" y1="763.5" x2="411.3" y2="771.7" stroke="#000" stroke-width="1.8"/>
<line x1="662.6" y1="763.5" x2="662.6" y2="771.7" stroke="#000" stroke-width="1.8"/>
<line x1="913.9" y1="763.5" x2="913.9" y2="771.7" stroke="#000" stroke-width="1.8"/>
<line x1="1165.5" y1="763.5" x2="1165.5" y2="771.7" stroke="#000" stroke-width="1.8"/>
<line x1="1416.8" y1="763.5" x2="1416.8" y2="771.7" stroke="#000" stroke-width="1.8"/>
<line x1="397.5" y1="763.5" x2="397.5" y2="768.5" stroke="#000" stroke-width="1.4"/>
<line x1="544.0" y1="763.5" x2="544.0" y2="768.5" stroke="#000" stroke-width="1.4"/>
<line x1="648.9" y1="763.5" x2="648.9" y2="768.5" stroke="#000" stroke-width="1.4"/>
<line x1="729.1" y1="763.5" x2="729.1" y2="768.5" stroke="#000" stroke-width="1.4"/>
<line x1="795.7" y1="763.5" x2="795.7" y2="768.5" stroke="#000" stroke-width="1.4"/>
<line x1="851.3" y1="763.5" x2="851.3" y2="768.5" stroke="#000" stroke-width="1.4"/>
<line x1="899.9" y1="763.5" x2="899.9" y2="768.5" stroke="#000" stroke-width="1.4"/>
<line x1="942.4" y1="763.5" x2="942.4" y2="768.5" stroke="#000" stroke-width="1.4"/>
<line x1="1231.9" y1="763.5" x2="1231.9" y2="768.5" stroke="#000" stroke-width="1.4"/>
<line x1="1378.8" y1="763.5" x2="1378.8" y2="768.5" stroke="#000" stroke-width="1.4"/>
<line x1="1482.9" y1="763.5" x2="1482.9" y2="768.5" stroke="#000" stroke-width="1.4"/>
<line x1="1563.6" y1="763.5" x2="1563.6" y2="768.5" stroke="#000" stroke-width="1.4"/>
<line x1="137.4" y1="25.00" x2="145.6" y2="25.00" stroke="#000" stroke-width="1.8"/>
<line x1="137.4" y1="182.27" x2="145.6" y2="182.27" stroke="#000" stroke-width="1.8"/>
<line x1="137.4" y1="339.54" x2="145.6" y2="339.54" stroke="#000" stroke-width="1.8"/>
<line x1="137.4" y1="496.81" x2="145.6" y2="496.81" stroke="#000" stroke-width="1.8"/>
<line x1="140.6" y1="134.93" x2="145.6" y2="134.93" stroke="#000" stroke-width="1.4"/>
<line x1="140.6" y1="107.23" x2="145.6" y2="107.23" stroke="#000" stroke-width="1.4"/>
<line x1="140.6" y1="87.58" x2="145.6" y2="87.58" stroke="#000" stroke-width="1.4"/>
<line x1="140.6" y1="72.34" x2="145.6" y2="72.34" stroke="#000" stroke-width="1.4"/>
<line x1="140.6" y1="59.89" x2="145.6" y2="59.89" stroke="#000" stroke-width="1.4"/>
<line x1="140.6" y1="49.36" x2="145.6" y2="49.36" stroke="#000" stroke-width="1.4"/>
<line x1="140.6" y1="40.24" x2="145.6" y2="40.24" stroke="#000" stroke-width="1.4"/>
<line x1="140.6" y1="32.20" x2="145.6" y2="32.20" stroke="#000" stroke-width="1.4"/>
<line x1="140.6" y1="292.20" x2="145.6" y2="292.20" stroke="#000" stroke-width="1.4"/>
<line x1="140.6" y1="264.50" x2="145.6" y2="264.50" stroke="#000" stroke-width="1.4"/>
<line x1="140.6" y1="244.85" x2="145.6" y2="244.85" stroke="#000" stroke-width="1.4"/>
<line x1="140.6" y1="229.61" x2="145.6" y2="229.61" stroke="#000" stroke-width="1.4"/>
<line x1="140.6" y1="217.16" x2="145.6" y2="217.16" stroke="#000" stroke-width="1.4"/>
<line x1="140.6" y1="206.63" x2="145.6" y2="206.63" stroke="#000" stroke-width="1.4"/>
<line x1="140.6" y1="197.51" x2="145.6" y2="197.51" stroke="#000" stroke-width="1.4"/>
<line x1="140.6" y1="189.47" x2="145.6" y2="189.47" stroke="#000" stroke-width="1.4"/>
<line x1="140.6" y1="449.47" x2="145.6" y2="449.47" stroke="#000" stroke-width="1.4"/>
<line x1="140.6" y1="421.77" x2="145.6" y2="421.77" stroke="#000" stroke-width="1.4"/>
<line x1="140.6" y1="402.12" x2="145.6" y2="402.12" stroke="#000" stroke-width="1.4"/>
<line x1="140.6" y1="386.88" x2="145.6" y2="386.88" stroke="#000" stroke-width="1.4"/>
<line x1="140.6" y1="374.43" x2="145.6" y2="374.43" stroke="#000" stroke-width="1.4"/>
<line x1="140.6" y1="363.90" x2="145.6" y2="363.90" stroke="#000" stroke-width="1.4"/>
<line x1="140.6" y1="354.78" x2="145.6" y2="354.78" stroke="#000" stroke-width="1.4"/>
<line x1="140.6" y1="346.74" x2="145.6" y2="346.74" stroke="#000" stroke-width="1.4"/>
<line x1="140.6" y1="512.05" x2="145.6" y2="512.05" stroke="#000" stroke-width="1.4"/>
<line x1="140.6" y1="504.01" x2="145.6" y2="504.01" stroke="#000" stroke-width="1.4"/>
<line x1="137.4" y1="623.0" x2="145.6" y2="623.0" stroke="#000" stroke-width="1.8"/>
<line x1="137.4" y1="677.0" x2="145.6" y2="677.0" stroke="#000" stroke-width="1.8"/>
<line x1="137.4" y1="731.0" x2="145.6" y2="731.0" stroke="#000" stroke-width="1.8"/>
<g font-family="'DejaVu Sans','Liberation Sans',sans-serif" font-size="25" fill="#000">
<text x="85.3" y="35.2">10<tspan x="117.6" dy="-9.7" font-size="17.5">0</tspan></text>
<text x="70.5" y="192.4">10<tspan x="103.0" dy="-9.7" font-size="17.5">−1</tspan></text>
<text x="70.5" y="349.6">10<tspan x="103.0" dy="-9.7" font-size="17.5">−2</tspan></text>
<text x="70.5" y="506.9">10<tspan x="103.0" dy="-9.7" font-size="17.5">−3</tspan></text>
<text x="128.0" y="633.1" text-anchor="end">0.005</text>
<text x="128.0" y="686.5" text-anchor="end">0.000</text>
<text x="128.0" y="740.8" text-anchor="end">0.005</text>
<text x="36.4" y="740.8">−</text>
<text x="411.5" y="558.0" text-anchor="middle">5</text>
<text x="411.5" y="800.3" text-anchor="middle">5</text>
<text x="662.8000000000001" y="558.0" text-anchor="middle">10</text>
<text x="662.8000000000001" y="800.3" text-anchor="middle">10</text>
<text x="914.1" y="558.0" text-anchor="middle">20</text>
<text x="914.1" y="800.3" text-anchor="middle">20</text>
<text x="1165.7" y="558.0" text-anchor="middle">40</text>
<text x="1165.7" y="800.3" text-anchor="middle">40</text>
<text x="1417.0" y="558.0" text-anchor="middle">80</text>
<text x="1417.0" y="800.3" text-anchor="middle">80</text>
<text y="835.0"><tspan x="711.6" font-style="italic">t</tspan><tspan x="726.5">−</tspan><tspan x="752.3" font-style="italic">t</tspan><tspan x="762.0" dy="4.3" font-size="17.5">0</tspan><tspan x="780.0" dy="-4.3">(restframe hours)</tspan></text>
<text transform="translate(54.3,367.2) rotate(-90)"><tspan font-style="italic">f</tspan><tspan dx="-2.4"> (arbitrary units)</tspan></text>
<text transform="translate(20.1,729.5) rotate(-90)" font-style="italic" letter-spacing="-0.2">Residual</text>
</g>
<rect x="1445.4" y="206.0" width="105.7" height="302.6" rx="4.2" ry="4.2" fill="#fff" fill-opacity="0.8" stroke="#d0d0d0" stroke-width="2.1"/>
<g font-family="'DejaVu Sans','Liberation Sans',sans-serif" font-size="25" fill="#000">
<circle cx="1481.0" cy="226.3" r="6.2" fill="#00ffff"/>
<text x="1525.3" y="235.0">c</text>
<circle cx="1481.0" cy="263.1" r="6.2" fill="#ffa500"/>
<text x="1525.3" y="272.0">o</text>
<circle cx="1481.0" cy="300.3" r="6.2" fill="#000000"/>
<text x="1525.3" y="309.0">L</text>
<line x1="1481.0" y1="324.0" x2="1481.0" y2="349.2" stroke="#66cdaa" stroke-width="3.4"/>
<circle cx="1481.0" cy="336.6" r="7.8" fill="#66cdaa" stroke="#333" stroke-width="2.1"/>
<text x="1525.3" y="345.5">g</text>
<line x1="1481.0" y1="361.0" x2="1481.0" y2="386.2" stroke="#dc143c" stroke-width="3.4"/>
<circle cx="1481.0" cy="373.6" r="7.5" fill="#fff" stroke="#dc143c" stroke-width="4.7"/>
<text x="1525.3" y="382.5">r</text>
<line x1="1481.0" y1="398.0" x2="1481.0" y2="423.2" stroke="#000080" stroke-width="3.4"/>
<circle cx="1481.0" cy="410.6" r="7.5" fill="#fff" stroke="#000080" stroke-width="4.7"/>
<text x="1525.3" y="419.0">u</text>
<line x1="1481.0" y1="435.0" x2="1481.0" y2="460.2" stroke="#ffc0cb" stroke-width="3.4"/>
<circle cx="1481.0" cy="447.6" r="7.5" fill="#fff" stroke="#ffc0cb" stroke-width="4.7"/>
<text x="1525.3" y="455.6">i</text>
<line x1="1481.0" y1="472.0" x2="1481.0" y2="497.2" stroke="#800080" stroke-width="3.4"/>
<circle cx="1481.0" cy="484.6" r="7.5" fill="#fff" stroke="#800080" stroke-width="4.7"/>
<text x="1525.3" y="493.5">z</text>
</g>
</svg>
</body></html>
